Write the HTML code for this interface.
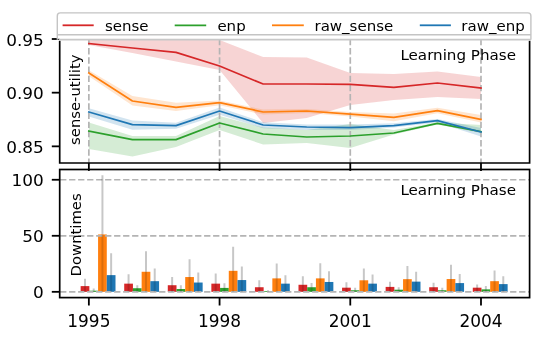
<!DOCTYPE html>
<html lang="en"><head><meta charset="utf-8"><title>sense-utility / Downtimes</title>
<style>html,body{margin:0;padding:0;background:#fff;overflow:hidden}svg{display:block}text{font-family:"DejaVu Sans","Liberation Sans",sans-serif;fill:#000}.t{font-size:16.4px}.s{font-size:14.67px}.g{font-size:14.8px}.r{font-size:14.8px}</style></head><body>
<svg width="550" height="341" viewBox="0 0 550 341">
<rect width="550" height="341" fill="#fff"/>
<defs><clipPath id="c1"><rect x="59.7" y="38.7" width="469.9" height="124.3"/></clipPath><clipPath id="c2"><rect x="59.7" y="169.5" width="469.9" height="128.1"/></clipPath></defs>
<g clip-path="url(#c1)">
<polygon points="88.86,36 132.43,36 176,36 219.57,39.9 263.14,57 306.71,57.6 350.28,73 393.85,74 437.42,71.6 480.99,77 480.99,99 437.42,97 393.85,100 350.28,105 306.71,118 263.14,123 219.57,70 176,61.6 132.43,53 88.86,45" fill="#d62728" fill-opacity="0.2"/>
<polygon points="88.86,122.6 132.43,136 176,136 219.57,116 263.14,127.6 306.71,130 350.28,124 393.85,130 437.42,122.4 480.99,125 480.99,133 437.42,124.6 393.85,134.5 350.28,148 306.71,143 263.14,144.4 219.57,130 176,147 132.43,156.6 88.86,149" fill="#2ca02c" fill-opacity="0.2"/>
<polygon points="88.86,70.2 132.43,96 176,102.8 219.57,100.4 263.14,109.6 306.71,109 350.28,112 393.85,113.4 437.42,107.8 480.99,115 480.99,122.4 437.42,113.2 393.85,121.2 350.28,116.6 306.71,113 263.14,114.4 219.57,105.2 176,111 132.43,105.4 88.86,76.2" fill="#ff7f0e" fill-opacity="0.2"/>
<polygon points="88.86,108.2 132.43,120.4 176,122.8 219.57,107.6 263.14,122.2 306.71,124.4 350.28,124.6 393.85,123.2 437.42,119 480.99,128 480.99,136.4 437.42,122.4 393.85,127.6 350.28,130 306.71,130 263.14,128.2 219.57,114.8 176,128.8 132.43,129.8 88.86,116.4" fill="#1f77b4" fill-opacity="0.2"/>
<line x1="88.86" x2="88.86" y1="38.9" y2="163.0" stroke="#b4b4b4" stroke-width="1.7" stroke-dasharray="6.4 2.8"/>
<line x1="219.57" x2="219.57" y1="38.9" y2="163.0" stroke="#b4b4b4" stroke-width="1.7" stroke-dasharray="6.4 2.8"/>
<line x1="350.28" x2="350.28" y1="38.9" y2="163.0" stroke="#b4b4b4" stroke-width="1.7" stroke-dasharray="6.4 2.8"/>
<line x1="480.99" x2="480.99" y1="38.9" y2="163.0" stroke="#b4b4b4" stroke-width="1.7" stroke-dasharray="6.4 2.8"/>
<polyline points="88.86,43.6 132.43,48 176,52.4 219.57,66 263.14,84 306.71,84 350.28,84.4 393.85,87.4 437.42,83 480.99,88" fill="none" stroke="#d62728" stroke-width="1.7" stroke-linejoin="round" stroke-linecap="square"/>
<polyline points="88.86,131 132.43,139.6 176,139.6 219.57,123 263.14,134 306.71,137 350.28,136 393.85,133 437.42,123.4 480.99,131.6" fill="none" stroke="#2ca02c" stroke-width="1.7" stroke-linejoin="round" stroke-linecap="square"/>
<polyline points="88.86,73 132.43,101 176,107.4 219.57,102.6 263.14,112 306.71,111 350.28,114.2 393.85,117.4 437.42,110.6 480.99,119.4" fill="none" stroke="#ff7f0e" stroke-width="1.7" stroke-linejoin="round" stroke-linecap="square"/>
<polyline points="88.86,112 132.43,124.6 176,125.6 219.57,111 263.14,125 306.71,127 350.28,127.6 393.85,125.6 437.42,120.6 480.99,132" fill="none" stroke="#1f77b4" stroke-width="1.7" stroke-linejoin="round" stroke-linecap="square"/>
</g>
<g clip-path="url(#c2)">
<rect x="80.65" y="286.11" width="8.71" height="5.72" fill="#d62728"/>
<rect x="89.36" y="290.71" width="8.71" height="1.12" fill="#2ca02c"/>
<rect x="98.07" y="234.45" width="8.71" height="57.38" fill="#ff7f0e"/>
<rect x="106.79" y="275.13" width="8.71" height="16.7" fill="#1f77b4"/>
<rect x="124.22" y="283.65" width="8.71" height="8.18" fill="#d62728"/>
<rect x="132.93" y="288.24" width="8.71" height="3.59" fill="#2ca02c"/>
<rect x="141.64" y="271.77" width="8.71" height="20.06" fill="#ff7f0e"/>
<rect x="150.36" y="281.18" width="8.71" height="10.65" fill="#1f77b4"/>
<rect x="167.79" y="285.22" width="8.71" height="6.61" fill="#d62728"/>
<rect x="176.5" y="289.03" width="8.71" height="2.8" fill="#2ca02c"/>
<rect x="185.21" y="277.04" width="8.71" height="14.79" fill="#ff7f0e"/>
<rect x="193.93" y="282.53" width="8.71" height="9.3" fill="#1f77b4"/>
<rect x="211.36" y="283.65" width="8.71" height="8.18" fill="#d62728"/>
<rect x="220.07" y="287.91" width="8.71" height="3.92" fill="#2ca02c"/>
<rect x="228.78" y="270.82" width="8.71" height="21.01" fill="#ff7f0e"/>
<rect x="237.5" y="280.06" width="8.71" height="11.77" fill="#1f77b4"/>
<rect x="254.93" y="287.24" width="8.71" height="4.59" fill="#d62728"/>
<rect x="263.64" y="291.05" width="8.71" height="0.78" fill="#2ca02c"/>
<rect x="272.35" y="278.38" width="8.71" height="13.45" fill="#ff7f0e"/>
<rect x="281.07" y="283.65" width="8.71" height="8.18" fill="#1f77b4"/>
<rect x="298.5" y="284.77" width="8.71" height="7.06" fill="#d62728"/>
<rect x="307.21" y="287.24" width="8.71" height="4.59" fill="#2ca02c"/>
<rect x="315.92" y="278.38" width="8.71" height="13.45" fill="#ff7f0e"/>
<rect x="324.64" y="281.97" width="8.71" height="9.86" fill="#1f77b4"/>
<rect x="342.07" y="287.68" width="8.71" height="4.15" fill="#d62728"/>
<rect x="350.78" y="290.26" width="8.71" height="1.57" fill="#2ca02c"/>
<rect x="359.49" y="280.29" width="8.71" height="11.54" fill="#ff7f0e"/>
<rect x="368.21" y="283.65" width="8.71" height="8.18" fill="#1f77b4"/>
<rect x="385.64" y="286.9" width="8.71" height="4.93" fill="#d62728"/>
<rect x="394.35" y="289.7" width="8.71" height="2.13" fill="#2ca02c"/>
<rect x="403.06" y="279.17" width="8.71" height="12.66" fill="#ff7f0e"/>
<rect x="411.78" y="281.63" width="8.71" height="10.2" fill="#1f77b4"/>
<rect x="429.21" y="287.24" width="8.71" height="4.59" fill="#d62728"/>
<rect x="437.92" y="290.26" width="8.71" height="1.57" fill="#2ca02c"/>
<rect x="446.63" y="279.05" width="8.71" height="12.78" fill="#ff7f0e"/>
<rect x="455.35" y="283.09" width="8.71" height="8.74" fill="#1f77b4"/>
<rect x="472.78" y="287.68" width="8.71" height="4.15" fill="#d62728"/>
<rect x="481.49" y="289.36" width="8.71" height="2.47" fill="#2ca02c"/>
<rect x="490.2" y="281.18" width="8.71" height="10.65" fill="#ff7f0e"/>
<rect x="498.92" y="284.1" width="8.71" height="7.73" fill="#1f77b4"/>
<line x1="60.1" x2="529.6" y1="291.83" y2="291.83" stroke="#b4b4b4" stroke-width="1.7" stroke-dasharray="6.3 2.7"/>
<line x1="60.1" x2="529.6" y1="235.79" y2="235.79" stroke="#b4b4b4" stroke-width="1.7" stroke-dasharray="6.3 2.7"/>
<line x1="60.1" x2="529.6" y1="179.76" y2="179.76" stroke="#b4b4b4" stroke-width="1.7" stroke-dasharray="6.3 2.7"/>
<line x1="85" x2="85" y1="291.83" y2="286.11" stroke="#000" stroke-opacity="0.14" stroke-width="2"/>
<line x1="85" x2="85" y1="286.11" y2="278.72" stroke="#000" stroke-opacity="0.22" stroke-width="2"/>
<line x1="93.72" x2="93.72" y1="291.83" y2="290.71" stroke="#000" stroke-opacity="0.14" stroke-width="2"/>
<line x1="93.72" x2="93.72" y1="290.71" y2="288.58" stroke="#000" stroke-opacity="0.22" stroke-width="2"/>
<line x1="102.43" x2="102.43" y1="291.83" y2="234.45" stroke="#000" stroke-opacity="0.14" stroke-width="2"/>
<line x1="102.43" x2="102.43" y1="234.45" y2="175.28" stroke="#000" stroke-opacity="0.22" stroke-width="2"/>
<line x1="111.14" x2="111.14" y1="291.83" y2="275.13" stroke="#000" stroke-opacity="0.14" stroke-width="2"/>
<line x1="111.14" x2="111.14" y1="275.13" y2="253.28" stroke="#000" stroke-opacity="0.22" stroke-width="2"/>
<line x1="128.57" x2="128.57" y1="291.83" y2="283.65" stroke="#000" stroke-opacity="0.14" stroke-width="2"/>
<line x1="128.57" x2="128.57" y1="283.65" y2="274.24" stroke="#000" stroke-opacity="0.22" stroke-width="2"/>
<line x1="137.29" x2="137.29" y1="291.83" y2="288.24" stroke="#000" stroke-opacity="0.14" stroke-width="2"/>
<line x1="137.29" x2="137.29" y1="288.24" y2="285.22" stroke="#000" stroke-opacity="0.22" stroke-width="2"/>
<line x1="146" x2="146" y1="291.83" y2="271.77" stroke="#000" stroke-opacity="0.14" stroke-width="2"/>
<line x1="146" x2="146" y1="271.77" y2="251.15" stroke="#000" stroke-opacity="0.22" stroke-width="2"/>
<line x1="154.72" x2="154.72" y1="291.83" y2="281.18" stroke="#000" stroke-opacity="0.14" stroke-width="2"/>
<line x1="154.72" x2="154.72" y1="281.18" y2="268.52" stroke="#000" stroke-opacity="0.22" stroke-width="2"/>
<line x1="172.14" x2="172.14" y1="291.83" y2="285.22" stroke="#000" stroke-opacity="0.14" stroke-width="2"/>
<line x1="172.14" x2="172.14" y1="285.22" y2="277.04" stroke="#000" stroke-opacity="0.22" stroke-width="2"/>
<line x1="180.86" x2="180.86" y1="291.83" y2="289.03" stroke="#000" stroke-opacity="0.14" stroke-width="2"/>
<line x1="180.86" x2="180.86" y1="289.03" y2="285.22" stroke="#000" stroke-opacity="0.22" stroke-width="2"/>
<line x1="189.57" x2="189.57" y1="291.83" y2="277.04" stroke="#000" stroke-opacity="0.14" stroke-width="2"/>
<line x1="189.57" x2="189.57" y1="277.04" y2="259.33" stroke="#000" stroke-opacity="0.22" stroke-width="2"/>
<line x1="198.28" x2="198.28" y1="291.83" y2="282.53" stroke="#000" stroke-opacity="0.14" stroke-width="2"/>
<line x1="198.28" x2="198.28" y1="282.53" y2="272.44" stroke="#000" stroke-opacity="0.22" stroke-width="2"/>
<line x1="215.71" x2="215.71" y1="291.83" y2="283.65" stroke="#000" stroke-opacity="0.14" stroke-width="2"/>
<line x1="215.71" x2="215.71" y1="283.65" y2="273.45" stroke="#000" stroke-opacity="0.22" stroke-width="2"/>
<line x1="224.43" x2="224.43" y1="291.83" y2="287.91" stroke="#000" stroke-opacity="0.14" stroke-width="2"/>
<line x1="224.43" x2="224.43" y1="287.91" y2="283.31" stroke="#000" stroke-opacity="0.22" stroke-width="2"/>
<line x1="233.14" x2="233.14" y1="291.83" y2="270.82" stroke="#000" stroke-opacity="0.14" stroke-width="2"/>
<line x1="233.14" x2="233.14" y1="270.82" y2="246.67" stroke="#000" stroke-opacity="0.22" stroke-width="2"/>
<line x1="241.85" x2="241.85" y1="291.83" y2="280.06" stroke="#000" stroke-opacity="0.14" stroke-width="2"/>
<line x1="241.85" x2="241.85" y1="280.06" y2="266.39" stroke="#000" stroke-opacity="0.22" stroke-width="2"/>
<line x1="259.28" x2="259.28" y1="291.83" y2="287.24" stroke="#000" stroke-opacity="0.14" stroke-width="2"/>
<line x1="259.28" x2="259.28" y1="287.24" y2="280.29" stroke="#000" stroke-opacity="0.22" stroke-width="2"/>
<line x1="268" x2="268" y1="291.83" y2="291.05" stroke="#000" stroke-opacity="0.14" stroke-width="2"/>
<line x1="268" x2="268" y1="291.05" y2="290.15" stroke="#000" stroke-opacity="0.22" stroke-width="2"/>
<line x1="276.71" x2="276.71" y1="291.83" y2="278.38" stroke="#000" stroke-opacity="0.14" stroke-width="2"/>
<line x1="276.71" x2="276.71" y1="278.38" y2="263.59" stroke="#000" stroke-opacity="0.22" stroke-width="2"/>
<line x1="285.43" x2="285.43" y1="291.83" y2="283.65" stroke="#000" stroke-opacity="0.14" stroke-width="2"/>
<line x1="285.43" x2="285.43" y1="283.65" y2="275.13" stroke="#000" stroke-opacity="0.22" stroke-width="2"/>
<line x1="302.85" x2="302.85" y1="291.83" y2="284.77" stroke="#000" stroke-opacity="0.14" stroke-width="2"/>
<line x1="302.85" x2="302.85" y1="284.77" y2="276.25" stroke="#000" stroke-opacity="0.22" stroke-width="2"/>
<line x1="311.57" x2="311.57" y1="291.83" y2="287.24" stroke="#000" stroke-opacity="0.14" stroke-width="2"/>
<line x1="311.57" x2="311.57" y1="287.24" y2="283.09" stroke="#000" stroke-opacity="0.22" stroke-width="2"/>
<line x1="320.28" x2="320.28" y1="291.83" y2="278.38" stroke="#000" stroke-opacity="0.14" stroke-width="2"/>
<line x1="320.28" x2="320.28" y1="278.38" y2="263.14" stroke="#000" stroke-opacity="0.22" stroke-width="2"/>
<line x1="329" x2="329" y1="291.83" y2="281.97" stroke="#000" stroke-opacity="0.14" stroke-width="2"/>
<line x1="329" x2="329" y1="281.97" y2="271.32" stroke="#000" stroke-opacity="0.22" stroke-width="2"/>
<line x1="346.42" x2="346.42" y1="291.83" y2="287.68" stroke="#000" stroke-opacity="0.14" stroke-width="2"/>
<line x1="346.42" x2="346.42" y1="287.68" y2="282.3" stroke="#000" stroke-opacity="0.22" stroke-width="2"/>
<line x1="355.14" x2="355.14" y1="291.83" y2="290.26" stroke="#000" stroke-opacity="0.14" stroke-width="2"/>
<line x1="355.14" x2="355.14" y1="290.26" y2="287.68" stroke="#000" stroke-opacity="0.22" stroke-width="2"/>
<line x1="363.85" x2="363.85" y1="291.83" y2="280.29" stroke="#000" stroke-opacity="0.14" stroke-width="2"/>
<line x1="363.85" x2="363.85" y1="280.29" y2="268.52" stroke="#000" stroke-opacity="0.22" stroke-width="2"/>
<line x1="372.57" x2="372.57" y1="291.83" y2="283.65" stroke="#000" stroke-opacity="0.14" stroke-width="2"/>
<line x1="372.57" x2="372.57" y1="283.65" y2="274.57" stroke="#000" stroke-opacity="0.22" stroke-width="2"/>
<line x1="389.99" x2="389.99" y1="291.83" y2="286.9" stroke="#000" stroke-opacity="0.14" stroke-width="2"/>
<line x1="389.99" x2="389.99" y1="286.9" y2="281.63" stroke="#000" stroke-opacity="0.22" stroke-width="2"/>
<line x1="398.71" x2="398.71" y1="291.83" y2="289.7" stroke="#000" stroke-opacity="0.14" stroke-width="2"/>
<line x1="398.71" x2="398.71" y1="289.7" y2="287.24" stroke="#000" stroke-opacity="0.22" stroke-width="2"/>
<line x1="407.42" x2="407.42" y1="291.83" y2="279.17" stroke="#000" stroke-opacity="0.14" stroke-width="2"/>
<line x1="407.42" x2="407.42" y1="279.17" y2="266.05" stroke="#000" stroke-opacity="0.22" stroke-width="2"/>
<line x1="416.14" x2="416.14" y1="291.83" y2="281.63" stroke="#000" stroke-opacity="0.14" stroke-width="2"/>
<line x1="416.14" x2="416.14" y1="281.63" y2="271.77" stroke="#000" stroke-opacity="0.22" stroke-width="2"/>
<line x1="433.56" x2="433.56" y1="291.83" y2="287.24" stroke="#000" stroke-opacity="0.14" stroke-width="2"/>
<line x1="433.56" x2="433.56" y1="287.24" y2="282.86" stroke="#000" stroke-opacity="0.22" stroke-width="2"/>
<line x1="442.28" x2="442.28" y1="291.83" y2="290.26" stroke="#000" stroke-opacity="0.14" stroke-width="2"/>
<line x1="442.28" x2="442.28" y1="290.26" y2="287.68" stroke="#000" stroke-opacity="0.22" stroke-width="2"/>
<line x1="450.99" x2="450.99" y1="291.83" y2="279.05" stroke="#000" stroke-opacity="0.14" stroke-width="2"/>
<line x1="450.99" x2="450.99" y1="279.05" y2="264.71" stroke="#000" stroke-opacity="0.22" stroke-width="2"/>
<line x1="459.71" x2="459.71" y1="291.83" y2="283.09" stroke="#000" stroke-opacity="0.14" stroke-width="2"/>
<line x1="459.71" x2="459.71" y1="283.09" y2="274.12" stroke="#000" stroke-opacity="0.22" stroke-width="2"/>
<line x1="477.13" x2="477.13" y1="291.83" y2="287.68" stroke="#000" stroke-opacity="0.14" stroke-width="2"/>
<line x1="477.13" x2="477.13" y1="287.68" y2="284.43" stroke="#000" stroke-opacity="0.22" stroke-width="2"/>
<line x1="485.85" x2="485.85" y1="291.83" y2="289.36" stroke="#000" stroke-opacity="0.14" stroke-width="2"/>
<line x1="485.85" x2="485.85" y1="289.36" y2="286.11" stroke="#000" stroke-opacity="0.22" stroke-width="2"/>
<line x1="494.56" x2="494.56" y1="291.83" y2="281.18" stroke="#000" stroke-opacity="0.14" stroke-width="2"/>
<line x1="494.56" x2="494.56" y1="281.18" y2="270.54" stroke="#000" stroke-opacity="0.22" stroke-width="2"/>
<line x1="503.28" x2="503.28" y1="291.83" y2="284.1" stroke="#000" stroke-opacity="0.14" stroke-width="2"/>
<line x1="503.28" x2="503.28" y1="284.1" y2="276.25" stroke="#000" stroke-opacity="0.22" stroke-width="2"/>
</g>
<g stroke="#000" stroke-width="1.7" fill="none" stroke-linecap="square">
<polyline points="59.7,41.6 59.7,163.0 529.6,163.0 529.6,41.6"/>
<rect x="59.7" y="169.5" width="469.9" height="128.1"/>
</g>
<g stroke="#000" stroke-width="1.8">
<line x1="51.8" x2="59.7" y1="39" y2="39"/>
<line x1="51.8" x2="59.7" y1="92.67" y2="92.67"/>
<line x1="51.8" x2="59.7" y1="146.35" y2="146.35"/>
<line x1="51.8" x2="59.7" y1="291.83" y2="291.83"/>
<line x1="51.8" x2="59.7" y1="235.79" y2="235.79"/>
<line x1="51.8" x2="59.7" y1="179.76" y2="179.76"/>
<line x1="88.86" x2="88.86" y1="163.0" y2="170.9"/>
<line x1="88.86" x2="88.86" y1="297.6" y2="305.5"/>
<line x1="219.57" x2="219.57" y1="163.0" y2="170.9"/>
<line x1="219.57" x2="219.57" y1="297.6" y2="305.5"/>
<line x1="350.28" x2="350.28" y1="163.0" y2="170.9"/>
<line x1="350.28" x2="350.28" y1="297.6" y2="305.5"/>
<line x1="480.99" x2="480.99" y1="163.0" y2="170.9"/>
<line x1="480.99" x2="480.99" y1="297.6" y2="305.5"/>
</g>
<g class="t" text-anchor="end">
<text transform="translate(43.8,45.5) scale(1.03,1)">0.95</text>
<text transform="translate(43.8,99.17) scale(1.03,1)">0.90</text>
<text transform="translate(43.8,152.85) scale(1.03,1)">0.85</text>
<text transform="translate(43.8,298.43) scale(1.03,1)">0</text>
<text transform="translate(43.8,242.39) scale(1.03,1)">50</text>
<text transform="translate(43.8,186.36) scale(1.03,1)">100</text>
</g>
<g class="t" text-anchor="middle">
<text style="font-size:16.8px" transform="translate(88.86,326.9) scale(1.01,1)">1995</text>
<text style="font-size:16.8px" transform="translate(219.57,326.9) scale(1.01,1)">1998</text>
<text style="font-size:16.8px" transform="translate(350.28,326.9) scale(1.01,1)">2001</text>
<text style="font-size:16.8px" transform="translate(480.99,326.9) scale(1.01,1)">2004</text>
</g>
<g class="s">
<text transform="translate(400.4,59.9) scale(1.032,1)">Learning Phase</text>
<text transform="translate(400.4,194.7) scale(1.032,1)">Learning Phase</text>
<text class="r" transform="translate(80.2,144.9) rotate(-90) scale(1,0.95)">sense-utility</text>
<text class="r" transform="translate(80.6,276.4) rotate(-90) scale(1,0.95)">Downtimes</text>
</g>
<g>
<rect x="57.3" y="12.9" width="473.6" height="26.8" rx="3" ry="3" fill="#fff" fill-opacity="0.8" stroke="none"/>
<path d="M59.2,39.6 H530.9" stroke="#c8c8c8" stroke-width="1.6" fill="none"/>
<path d="M57.3,39.8 V15.9 Q57.3,12.9 60.3,12.9 H527.9 Q530.9,12.9 530.9,15.9 V39.8 M57.3,34.8 H530.9" stroke="#c4c4c4" stroke-width="1.4" fill="none"/>
<line x1="62.6" x2="93.7" y1="25.3" y2="25.3" stroke="#d62728" stroke-width="1.8"/>
<text class="g" transform="translate(104.9,31.2) scale(1.014,1)">sense</text>
<line x1="174.7" x2="206.2" y1="25.3" y2="25.3" stroke="#2ca02c" stroke-width="1.8"/>
<text class="g" transform="translate(217.4,31.2) scale(1.014,1)">enp</text>
<line x1="272.0" x2="303.8" y1="25.3" y2="25.3" stroke="#ff7f0e" stroke-width="1.8"/>
<text class="g" transform="translate(314.5,31.2) scale(1.014,1)">raw_sense</text>
<line x1="419.8" x2="450.9" y1="25.3" y2="25.3" stroke="#1f77b4" stroke-width="1.8"/>
<text class="g" transform="translate(461.3,31.2) scale(1.014,1)">raw_enp</text>
</g>
</svg></body></html>
